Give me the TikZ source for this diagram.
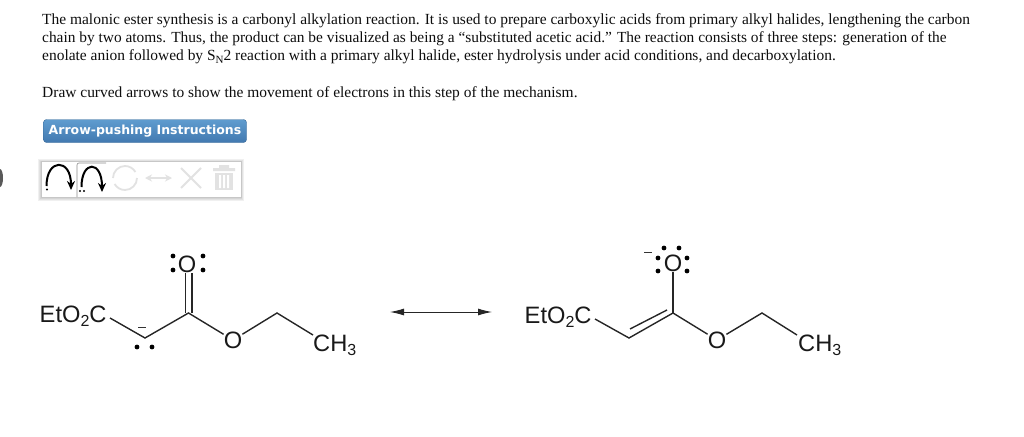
\documentclass[tikz,border=0pt]{standalone}
\usepackage{fontspec}
\setmainfont{Liberation Serif}
\setsansfont{Liberation Sans}
\newfontfamily\btnfont{DejaVu Sans}
\usetikzlibrary{arrows.meta}
\definecolor{btntop}{HTML}{5F9CCF}
\definecolor{btnbot}{HTML}{4279B0}
\definecolor{btnedge}{HTML}{3A6A98}
\definecolor{iconoff}{HTML}{E2E2E2}
\newcommand{\subN}{\raisebox{-3.5pt}{\fontsize{11}{12}\selectfont N}}
\newcommand{\atomsub}[1]{\raisebox{-4.5pt}{\fontsize{16}{18}\selectfont #1}}
\tikzset{
  para/.style={anchor=base west,inner sep=0pt,font=\fontsize{15.46}{18}\selectfont,text=black!95},
  atom/.style={anchor=base west,inner sep=0pt,font=\sffamily\fontsize{23.7}{26}\selectfont,text=black!90},
  oatom/.style={inner sep=0pt,font=\sffamily\fontsize{23.7}{26}\selectfont,text=black!90},
  bond/.style={draw=black!85,line width=1.4pt},
  lp/.style={circle,fill=black,inner sep=0pt,minimum size=4.8pt},
  chg/.style={draw=black!80,line width=1pt},
  curly/.style={line width=2pt,black,-{Stealth[length=9pt,width=8pt]}},
  iconoffline/.style={draw=iconoff,line width=1.8pt},
}
\begin{document}
\begin{tikzpicture}[x=1pt,y=-1pt]
\useasboundingbox (0,0) rectangle (1024,436);
% text
\node[para] (l1) at (42,25) {The malonic ester synthesis is a carbonyl alkylation reaction. It is used to prepare carboxylic acids from primary alkyl halides, lengthening the carbon};
\node[para,font=\fontsize{15.39}{18}\selectfont] (l2) at (42,42) {chain by two atoms. Thus, the product can be visualized as being a “substituted acetic acid.” The reaction consists of three steps: generation of the};
\node[para] (l3) at (42,60) {enolate anion followed by S\subN 2 reaction with a primary alkyl halide, ester hydrolysis under acid conditions, and decarboxylation.};
\node[para] (l4) at (42,97) {Draw curved arrows to show the movement of electrons in this step of the mechanism.};
% button
\node[draw=btnedge,top color=btntop,bottom color=btnbot,rounded corners=3pt,minimum width=203pt,minimum height=23pt,inner sep=0pt,text=white,font=\btnfont\bfseries\fontsize{12.5}{14}\selectfont] (btn) at (145,131) {Arrow-pushing Instructions};
% cropped blob
\fill[black!65] (0,178) ellipse (3pt and 9pt);
% toolbar
\foreach \o in {1,2,3}{\fill[black,opacity=.06] (41-\o,161-\o+1) rectangle (241+\o,197+\o+1);}
\node[draw=black!22,fill=white,line width=.6pt,minimum width=200pt,minimum height=36pt,inner sep=0pt] (bar) at (141,179) {};
\draw[black!45,line width=.6pt,rounded corners=2pt] (77,197) -- (77,163) -- (106,163);
\draw[curly] (46.5,186) .. controls (46.5,158) and (71,158) .. (71,190);
\fill (47,189.5) circle (1.2pt);
\draw[curly] (81.5,187) .. controls (81.5,160) and (102,160) .. (102,192);
\fill (80,191) circle (1.2pt) (84,191) circle (1.2pt);
\draw[iconoffline] (113,178) arc (180:330:12) (137,178) arc (0:150:12);
\draw[iconoffline,{Stealth[length=7pt,width=7pt]}-{Stealth[length=7pt,width=7pt]}] (145,178) -- (172,178);
\draw[iconoffline] (181,168) -- (201,188) (181,188) -- (201,168);
\fill[iconoff] (213,168) rectangle (235,171) (219,165) rectangle (229,168);
\fill[iconoff] (215,173) rectangle (233,190);
\fill[white] (219,175) rectangle (221,188) (223,175) rectangle (225,188) (227,175) rectangle (229,188);
% left molecule
\node[atom] (a1) at (39.5,322) {EtO\atomsub{2}C};
\node[oatom] (ao1) at (187,264) {O};
\node[oatom] (ao2) at (233,340) {O};
\node[atom] (ach) at (313,351) {CH\atomsub{3}};
\coordinate (ab0) at (110,318);
\coordinate (ac1) at (145,338);
\coordinate (ac2) at (188.5,313);
\coordinate (ac3) at (277,313);
\coordinate (ach0) at (313,335);
\draw[bond] (ab0) -- (ac1) -- (ac2) -- (ao2);
\draw[bond] (ao2) -- (ac3) -- (ach0);
\draw[bond] ([xshift=-3.3pt]ac2) -- ++(0,-40) ([xshift=3.3pt]ac2) -- ++(0,-40);
\node[lp] at (173,256) {}; \node[lp] at (173,270) {}; \node[lp] at (203,256) {}; \node[lp] at (203,270) {};
\node[lp] at (137,347) {}; \node[lp] at (152,347) {};
\draw[chg] (138,327) -- (146,327);
% arrow
\coordinate (rl) at (390,312);
\coordinate (rr) at (492,312);
\draw[black!85,line width=.9pt,{Latex[length=14pt,width=7pt]}-{Latex[length=14pt,width=7pt]}] (rl) -- (rr);
% right molecule
\node[atom] (b1) at (524.5,323) {EtO\atomsub{2}C};
\node[oatom] (bo1) at (673,263) {O};
\node[oatom] (bo2) at (717,340) {O};
\node[atom] (bch) at (798,351) {CH\atomsub{3}};
\coordinate (bb0) at (595,319);
\coordinate (bc1) at (629,338);
\coordinate (bc2) at (673,313);
\coordinate (bc3) at (762,313);
\coordinate (bch0) at (797,335);
\coordinate (bd1) at (630,329);
\coordinate (bd2) at (667,310);
\draw[bond] (bb0) -- (bc1) -- (bc2) -- (bo2);
\draw[bond] (bo2) -- (bc3) -- (bch0);
\draw[bond] (bd1) -- (bd2);
\draw[bond] (bc2) -- (bo1);
\node[lp] at (664,248) {}; \node[lp] at (679,248) {};
\node[lp] at (658,258) {}; \node[lp] at (658,271) {};
\node[lp] at (687,258) {}; \node[lp] at (687,271) {};
\draw[chg] (644,252) -- (652,252);
\end{tikzpicture}
\end{document}
